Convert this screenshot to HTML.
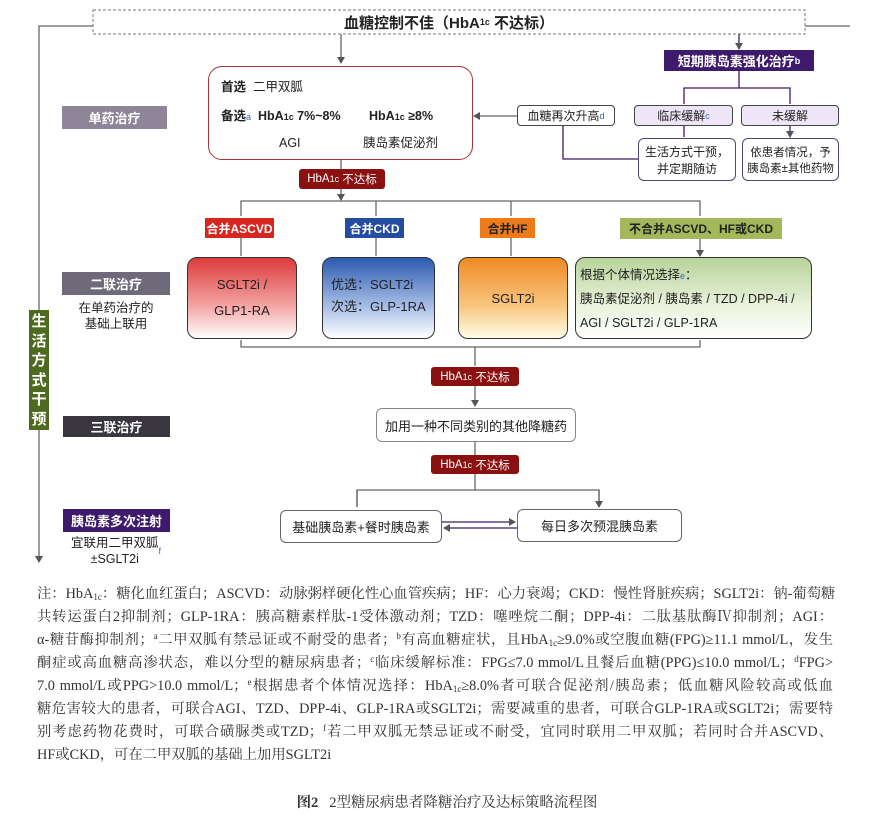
<!DOCTYPE html>
<html><head><meta charset="utf-8"><style>
*{margin:0;padding:0;box-sizing:border-box}
body{width:894px;height:819px;background:#fff;position:relative;overflow:hidden;font-family:"Liberation Sans","Noto Sans CJK SC",sans-serif;color:#222}
.a{position:absolute}
.c{display:flex;align-items:center;justify-content:center;text-align:center}
.lab{color:#fff;font-weight:bold;font-size:13px}
.fn{position:absolute;left:37px;width:796px;height:20px;font-family:"Liberation Serif","Noto Serif CJK SC",serif;font-size:14.3px;line-height:20px;text-align:justify;text-align-last:justify;white-space:nowrap;color:#333}
sub{font-size:9px;vertical-align:-2px;line-height:0}
sup{font-size:9px;vertical-align:5px;line-height:0}
.sm{font-size:9px;line-height:0}
.box{border:1.5px solid #444;border-radius:6px;background:#fff;font-size:12px}
.r{position:absolute;line-height:16px;white-space:nowrap}
</style></head><body>
<svg class="a" style="left:0;top:0" width="894" height="819">
<defs><marker id="ar" markerWidth="8" markerHeight="8" refX="6" refY="4" orient="auto" markerUnits="userSpaceOnUse"><path d="M0,0 L7,4 L0,8z" fill="#555"/></marker></defs>
<g stroke="#666" stroke-width="1.3" fill="none">
<path d="M93 26 H39 V562" marker-end="url(#ar)"/>
<path d="M805 26 H850"/>
<path d="M341 34 V63" marker-end="url(#ar)"/>
<path d="M739 34 V49" marker-end="url(#ar)" stroke="#3d1a6b"/>
<path d="M739 71 V88 H684 V104 M739 88 H790 V104" stroke="#3d1a6b"/>
<path d="M684 126 V137 M790 126 V137" stroke="#3d1a6b" marker-end="url(#ar)"/>
<path d="M517 116 H474" marker-end="url(#ar)"/>
<path d="M563 126 V159 H638" stroke="#3d1a6b"/>
<path d="M341 160 V200" marker-end="url(#ar)"/>
<path d="M241 216 V201 H700 V216 M376 201 V216 M511 201 V216"/>
<path d="M241 238 V256 M376 238 V256 M511 238 V256 M700 239 V256" marker-end="url(#ar)"/>
<path d="M241 340 V347 H700 V340 M475 347 V366"/>
<path d="M475 386 V406" marker-end="url(#ar)"/>
<path d="M475 442 V455 M475 474 V490 H357 V507 M475 490 H599 V507"/>
<path d="M357 490 V507 M599 490 V507" marker-end="url(#ar)"/>
<path d="M442 522 H515" stroke="#3d1a6b" marker-end="url(#ar)"/>
<path d="M517 528 H444" stroke="#3d1a6b" marker-end="url(#ar)"/>
</g>
<rect x="93" y="10" width="712" height="24" fill="#fff" stroke="#777" stroke-dasharray="3,2"/>
</svg>
<div class="a c" style="left:93px;top:10px;width:712px;height:24px;font-weight:bold;font-size:15px">血糖控制不佳（HbA<span class="sm">1c</span>&nbsp;不达标）</div>

<div class="a" style="left:208px;top:66px;width:265px;height:94px;border:1.5px solid #a33;border-radius:14px;background:#fff;font-size:12.5px">
<div class="r" style="left:12px;top:12px"><b>首选</b>&nbsp; 二甲双胍</div>
<div class="r" style="left:12px;top:41px"><b>备选</b><span class="sm" style="color:#36c">a</span>&nbsp; <b>HbA<span class="sm">1c</span> 7%~8%</b></div>
<div class="r" style="left:160px;top:41px"><b>HbA<span class="sm">1c</span> ≥8%</b></div>
<div class="r" style="left:70px;top:68px">AGI</div>
<div class="r" style="left:154px;top:68px">胰岛素促泌剂</div>
</div>
<div class="a c lab" style="left:62px;top:106px;width:105px;height:23px;background:#8e8598">单药治疗</div>
<div class="a c lab" style="left:664px;top:50px;width:150px;height:21px;background:#3d1a6b">短期胰岛素强化治疗<span class="sm">b</span></div>
<div class="a c box" style="left:517px;top:105px;width:98px;height:21px;border-radius:4px">血糖再次升高<span class="sm" style="color:#36c">d</span></div>
<div class="a c box" style="left:634px;top:105px;width:99px;height:21px;border-radius:4px;background:#eee6f6">临床缓解<span class="sm" style="color:#36c">c</span></div>
<div class="a c box" style="left:741px;top:105px;width:98px;height:21px;border-radius:4px;background:#eee6f6">未缓解</div>
<div class="a c box" style="left:638px;top:138px;width:98px;height:43px;border-color:#554477">生活方式干预，<br>并定期随访</div>
<div class="a c box" style="left:742px;top:138px;width:97px;height:43px;border-color:#554477;font-size:11.5px">依患者情况，予<br>胰岛素±其他药物</div>

<div class="a c lab" style="left:299px;top:169px;width:86px;height:20px;background:#8b1010;border-radius:3px;font-weight:normal;font-size:11.5px">HbA<span class="sm">1c</span>&nbsp;不达标</div>

<div class="a c lab" style="left:205px;top:218px;width:69px;height:20px;background:#d7261e;font-size:12px">合并ASCVD</div>
<div class="a c lab" style="left:345px;top:218px;width:59px;height:20px;background:#244ca0;font-size:12px">合并CKD</div>
<div class="a c lab" style="left:480px;top:218px;width:55px;height:20px;background:#ee7a1a;color:#222;font-size:12px">合并HF</div>
<div class="a c lab" style="left:620px;top:218px;width:162px;height:21px;background:#a3b85a;color:#222;font-size:12px">不合并ASCVD、HF或CKD</div>

<div class="a c" style="left:187px;top:257px;width:110px;height:82px;border:1.5px solid #333;border-radius:10px;background:linear-gradient(#dc3b3b,#f4a5a5 60%,#fff);font-size:13px;line-height:26px">SGLT2i /<br>GLP1-RA</div>
<div class="a" style="left:322px;top:257px;width:113px;height:82px;border:1.5px solid #333;border-radius:10px;background:linear-gradient(#2c5bb0,#a7bde6 60%,#fff);font-size:13px;line-height:22px;padding:16px 0 0 8px">优选：SGLT2i<br>次选：GLP-1RA</div>
<div class="a c" style="left:458px;top:257px;width:110px;height:82px;border:1.5px solid #333;border-radius:10px;background:linear-gradient(#f08a24,#f8c680 60%,#fffde8);font-size:13px">SGLT2i</div>
<div class="a" style="left:575px;top:257px;width:237px;height:82px;border:1.5px solid #333;border-radius:10px;background:linear-gradient(#b8d39a,#e9f2dc 60%,#fff);font-size:12.5px;line-height:24px;padding:5px 0 0 4px">根据个体情况选择<span class="sm" style="color:#36c">e</span>：<br>胰岛素促泌剂 / 胰岛素 / TZD / DPP-4i /<br>AGI / SGLT2i / GLP-1RA</div>

<div class="a c lab" style="left:62px;top:272px;width:108px;height:23px;background:#6f6a7a">二联治疗</div>
<div class="a c" style="left:55px;top:300px;width:122px;font-size:12.5px;line-height:16px">在单药治疗的<br>基础上联用</div>

<div class="a c lab" style="left:431px;top:367px;width:88px;height:19px;background:#8b1010;border-radius:3px;font-weight:normal;font-size:11.5px">HbA<span class="sm">1c</span>&nbsp;不达标</div>
<div class="a c box" style="left:376px;top:408px;width:200px;height:34px;border-color:#888;font-size:13px">加用一种不同类别的其他降糖药</div>
<div class="a c lab" style="left:63px;top:416px;width:107px;height:21px;background:#3a3640">三联治疗</div>
<div class="a c lab" style="left:431px;top:455px;width:88px;height:19px;background:#8b1010;border-radius:3px;font-weight:normal;font-size:11.5px">HbA<span class="sm">1c</span>&nbsp;不达标</div>

<div class="a c box" style="left:280px;top:510px;width:162px;height:33px;border-color:#666;font-size:13px">基础胰岛素+餐时胰岛素</div>
<div class="a c box" style="left:517px;top:509px;width:165px;height:33px;border-color:#666;font-size:13px">每日多次预混胰岛素</div>
<div class="a c lab" style="left:63px;top:509px;width:107px;height:23px;background:#3d1a6b">胰岛素多次注射</div>
<div class="a c" style="left:55px;top:535px;width:122px;font-size:12.5px;line-height:16px">宜联用二甲双胍<br>±SGLT2i<span class="sm" style="color:#36c">f</span></div>

<div class="a" style="left:29px;top:310px;width:20px;height:120px;background:#4d6a1e;color:#fff;font-weight:bold;font-size:15px;line-height:19.5px;text-align:center;padding-top:2px">生<br>活<br>方<br>式<br>干<br>预</div>

<div class="fn" style="top:584px">注：HbA<sub>1c</sub>：糖化血红蛋白；ASCVD：动脉粥样硬化性心血管疾病；HF：心力衰竭；CKD：慢性肾脏疾病；SGLT2i：钠-葡萄糖</div>
<div class="fn" style="top:607px">共转运蛋白2抑制剂；GLP-1RA：胰高糖素样肽-1受体激动剂；TZD：噻唑烷二酮；DPP-4i：二肽基肽酶Ⅳ抑制剂；AGI：</div>
<div class="fn" style="top:630px">α-糖苷酶抑制剂；<sup>a</sup>二甲双胍有禁忌证或不耐受的患者；<sup>b</sup>有高血糖症状，且HbA<sub>1c</sub>≥9.0%或空腹血糖(FPG)≥11.1 mmol/L，发生</div>
<div class="fn" style="top:653px">酮症或高血糖高渗状态，难以分型的糖尿病患者；<sup>c</sup>临床缓解标准：FPG≤7.0 mmol/L且餐后血糖(PPG)≤10.0 mmol/L；<sup>d</sup>FPG&gt;</div>
<div class="fn" style="top:676px">7.0 mmol/L或PPG&gt;10.0 mmol/L；<sup>e</sup>根据患者个体情况选择：HbA<sub>1c</sub>≥8.0%者可联合促泌剂/胰岛素；低血糖风险较高或低血</div>
<div class="fn" style="top:699px">糖危害较大的患者，可联合AGI、TZD、DPP-4i、GLP-1RA或SGLT2i；需要减重的患者，可联合GLP-1RA或SGLT2i；需要特</div>
<div class="fn" style="top:722px">别考虑药物花费时，可联合磺脲类或TZD；<sup>f</sup>若二甲双胍无禁忌证或不耐受，宜同时联用二甲双胍；若同时合并ASCVD、</div>
<div class="fn" style="top:745px;text-align-last:left">HF或CKD，可在二甲双胍的基础上加用SGLT2i</div>
<div class="a" style="left:0;top:791px;width:894px;text-align:center;font-family:'Liberation Serif','Noto Serif CJK SC',serif;font-size:14.5px;color:#333"><b>图2</b>&nbsp;&nbsp; 2型糖尿病患者降糖治疗及达标策略流程图</div>
</body></html>
